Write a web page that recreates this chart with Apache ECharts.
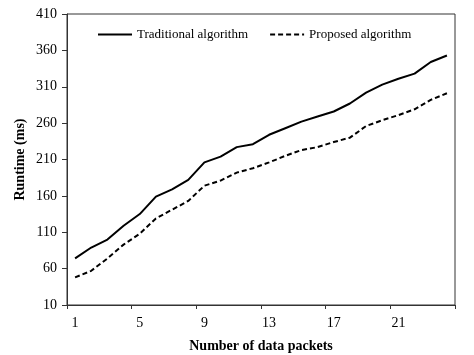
<!DOCTYPE html>
<html>
<head>
<meta charset="utf-8">
<script src="https://cdn.jsdelivr.net/npm/echarts@6/dist/echarts.min.js"></script>
<style>html,body{margin:0;padding:0;background:#fff;}#c{width:474px;height:355px;}</style>
</head>
<body>
<div id="c"></div>
<script>
var categories = ['1','2','3','4','5','6','7','8','9','10','11','12','13','14','15','16','17','18','19','20','21','22','23','24'];
var traditional = [74, 89, 100, 119, 135, 159, 169, 182, 206, 214, 227, 231, 244, 253, 262, 269, 276, 287, 302, 313, 321, 328, 344, 353];
var proposed = [48, 57, 74, 93, 108, 129, 141, 153, 174, 181, 192, 198, 206, 215, 223, 227, 234, 240, 256, 264, 271, 279, 292, 301];
var yTicks = {min: 10, max: 410, interval: 50};

var font = 'Liberation Serif';
var chart = echarts.init(document.getElementById('c'), null, {renderer: 'canvas'});
chart.setOption({
  backgroundColor: '#fff',
  animation: false,
  grid: {left: 67, right: 19, top: 14, bottom: 50, outerBoundsMode: 'none', containLabel: false,
         show: true, borderColor: '#333', borderWidth: 1, backgroundColor: 'transparent'},
  legend: {
    left: 97, top: 28, itemWidth: 34, itemHeight: 10, itemGap: 21, padding: 0,
    itemStyle: {color: 'transparent', borderColor: 'transparent', borderWidth: 0},
    textStyle: {fontFamily: font, fontSize: 13, color: '#000'},
    data: ['Traditional algorithm', 'Proposed algorithm']
  },
  xAxis: {
    type: 'category', data: categories, boundaryGap: true,
    name: 'Number of data packets', nameLocation: 'middle', nameGap: 34,
    nameTextStyle: {fontFamily: font, fontSize: 14, fontWeight: 'bold', color: '#000'},
    axisLine: {lineStyle: {color: '#333', width: 1}},
    axisTick: {show: true, interval: 3, length: 4, lineStyle: {color: '#333', width: 1}},
    axisLabel: {interval: 3, fontFamily: font, fontSize: 14, color: '#000', margin: 11},
    splitLine: {show: false}
  },
  yAxis: {
    type: 'value', min: yTicks.min, max: yTicks.max, interval: yTicks.interval,
    name: 'Runtime (ms)', nameLocation: 'middle', nameGap: 40, nameMoveOverlap: false,
    nameTextStyle: {fontFamily: font, fontSize: 14, fontWeight: 'bold', color: '#000'},
    axisLine: {show: true, lineStyle: {color: '#333', width: 1}},
    axisTick: {show: true, length: 5, lineStyle: {color: '#333', width: 1}},
    axisLabel: {fontFamily: font, fontSize: 14, color: '#000', margin: 10},
    splitLine: {show: false}
  },
  series: [
    {name: 'Traditional algorithm', type: 'line', data: traditional, symbol: 'none',
     lineStyle: {color: '#000', width: 2, type: 'solid'}, itemStyle: {color: '#000'}},
    {name: 'Proposed algorithm', type: 'line', data: proposed, symbol: 'none',
     lineStyle: {color: '#000', width: 2, type: [5, 3]}, itemStyle: {color: '#000'}}
  ]
});
</script>
</body>
</html>
